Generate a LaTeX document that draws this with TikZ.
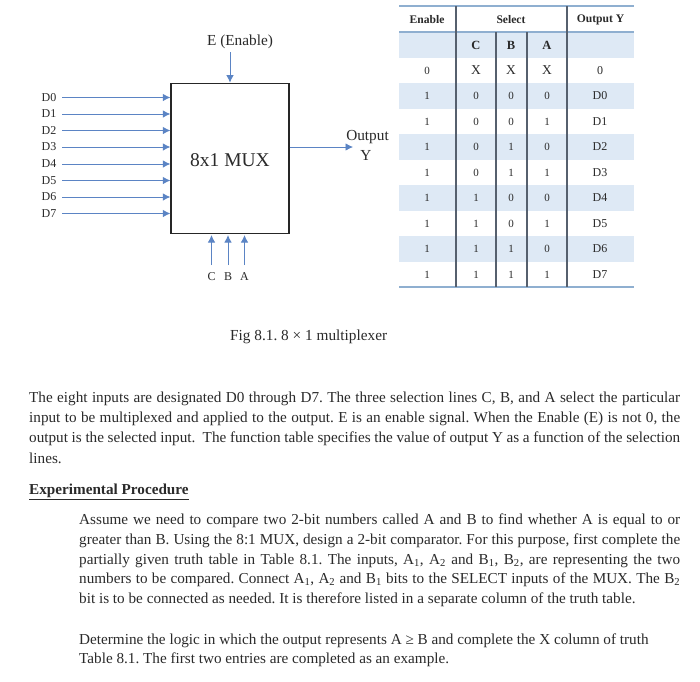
\documentclass[tikz,border=0pt]{standalone}
\usepackage{fontspec}
\setmainfont{Liberation Serif}
\usetikzlibrary{arrows.meta}
\frenchspacing
\definecolor{wire}{HTML}{5B84C4}
\definecolor{rowtint}{HTML}{DEE9F5}
\definecolor{rulecol}{HTML}{8FAFD0}
\definecolor{vrule}{HTML}{56606E}
\definecolor{ink}{HTML}{2A2A2A}
\tikzset{
  wirearrow/.style={draw=wire,line width=1pt,-{Latex[length=7.5pt,width=7.5pt]}},
  inlabel/.style={font=\fontsize{12}{14}\selectfont,text=ink,inner sep=0pt},
  diaglabel/.style={font=\fontsize{15.3}{17}\selectfont,text=ink,inner sep=0pt},
  muxbox/.style={draw=black!85,line width=1.2pt,inner sep=0pt,minimum width=118pt,minimum height=150pt},
  cell/.style={font=\fontsize{11}{13}\selectfont,text=ink,inner sep=0pt},
  headcell/.style={font=\fontsize{11.6}{13}\selectfont\bfseries,text=ink,inner sep=0pt},
  bodyline/.style={anchor=west,inner sep=0pt,text=ink,font=\fontsize{15.2}{17}\selectfont},
  tabledivider/.style={draw=vrule,line width=1.1pt},
  tablerule/.style={draw=rulecol,line width=1.1pt},
}
\newcommand{\fullline}[5]{\node[bodyline] (#1) at (#2,#3) {\makebox[#4pt][s]{#5}};}
\begin{document}
\begin{tikzpicture}[x=1pt,y=-1pt]
\path[use as bounding box,fill=white] (0,0) rectangle (700,681);

% MUX
\node[muxbox] (mux) at (230,158.3) {};
\node[diaglabel,font=\fontsize{19.5}{22}\selectfont] (muxtext) at (230,160.5) {8x1 MUX};
\node[diaglabel] (enable) at (240,41.5) {E (Enable)};
\coordinate (enfree) at (230,52);
\draw[wirearrow] (enfree) -- (enfree |- mux.north);

\foreach \i/\yy in {0/97.5,1/114,2/130.5,3/147,4/164,5/180.5,6/197,7/213.5}{
  \node[inlabel] (d\i) at (49,\yy) {D\i};
  \coordinate (dfree\i) at (62,\yy);
  \draw[wirearrow] (dfree\i) -- (dfree\i -| mux.west);
}
\coordinate (outstart) at (mux.east |- 0,147);
\coordinate (outend) at (353,147);
\draw[wirearrow,line width=0.8pt] (outstart) -- (outend);
\node[diaglabel] (outa) at (367.5,137.5) {Output};
\node[diaglabel] (outb) at (366,155) {Y};

\foreach \n/\xx in {C/211.5,B/228,A/244.5}{
  \node[inlabel] (sel\n) at (\xx,277) {\n};
  \coordinate (self\n) at (\xx,265);
  \draw[wirearrow] (self\n) -- (\xx,235);
}
\node[diaglabel,anchor=west] (caption) at (230,336.5) {Fig 8.1. 8 × 1 multiplexer};

% Table
\foreach \r in {0,2,4,6,8}{
  \fill[rowtint] (399,32+25.5*\r) rectangle (634,32+25.5*\r+25.5);
}
\draw[tablerule] (399,6) -- (634,6);
\draw[tablerule] (399,32) -- (634,32);
\draw[tablerule] (399,287) -- (634,287);
\draw[tabledivider] (456,6) -- (456,287);
\draw[tabledivider] (567,6) -- (567,287);
\draw[tabledivider] (496,32) -- (496,287);
\draw[tabledivider] (527,32) -- (527,287);

\node[headcell] (hE) at (427,20) {Enable};
\node[headcell] (hS) at (511,20) {Select};
\node[headcell] (hY) at (600.5,20) {Output Y};
\node[headcell,font=\fontsize{12.5}{14}\selectfont\bfseries] (hC) at (476,45) {C};
\node[headcell,font=\fontsize{12.5}{14}\selectfont\bfseries] (hB) at (511,45) {B};
\node[headcell,font=\fontsize{12.5}{14}\selectfont\bfseries] (hA) at (547,45) {A};

\foreach \r/\e/\c/\b/\a/\o in {1/0/X/X/X/0,2/1/0/0/0/D0,3/1/0/0/1/D1,4/1/0/1/0/D2,5/1/0/1/1/D3,6/1/1/0/0/D4,7/1/1/0/1/D5,8/1/1/1/0/D6,9/1/1/1/1/D7}{
  \node[cell] (e\r) at (427,45+25.5*\r) {\e};
  \node[cell,font=\fontsize{\ifnum\r=1 13.5\else 11\fi}{14}\selectfont] (c\r) at (476,45+25.5*\r) {\c};
  \node[cell,font=\fontsize{\ifnum\r=1 13.5\else 11\fi}{14}\selectfont] (b\r) at (511,45+25.5*\r) {\b};
  \node[cell,font=\fontsize{\ifnum\r=1 13.5\else 11\fi}{14}\selectfont] (a\r) at (547,45+25.5*\r) {\a};
  \node[cell,font=\fontsize{12}{14}\selectfont] (o\r) at (600,45+25.5*\r) {\o};
}

% Text
\fullline{l1}{29}{399}{651}{The eight inputs are designated D0 through D7. The three selection lines C, B, and A select the particular}
\fullline{l2}{29}{419}{651}{input to be multiplexed and applied to the output. E is an enable signal. When the Enable (E) is not 0, the}
\fullline{l3}{29}{439}{651}{output is the selected input.\ \ The function table specifies the value of output Y as a function of the selection}
\node[bodyline] (l4) at (29,458.5) {lines.};
\node[bodyline,font=\fontsize{15.2}{17}\selectfont\bfseries] (head) at (29,491.5) {\underline{Experimental Procedure}};
\fullline{p1}{79}{521}{601}{Assume we need to compare two 2-bit numbers called A and B to find whether A is equal to or}
\fullline{p2}{79}{540.5}{601}{greater than B. Using the 8:1 MUX, design a 2-bit comparator. For this purpose, first complete the}
\fullline{p3}{79}{561}{601}{partially given truth table in Table 8.1. The inputs, A\textsubscript{1}, A\textsubscript{2} and B\textsubscript{1}, B\textsubscript{2}, are representing the two}
\fullline{p4}{79}{580}{601}{numbers to be compared. Connect A\textsubscript{1}, A\textsubscript{2} and B\textsubscript{1} bits to the SELECT inputs of the MUX. The B\textsubscript{2}}
\node[bodyline] (p5) at (79,600) {bit is to be connected as needed. It is therefore listed in a separate column of the truth table.};
\node[bodyline] (q1) at (79,640.5) {Determine the logic in which the output represents A ≥ B and complete the X column of truth};
\node[bodyline] (q2) at (79,659.5) {Table 8.1. The first two entries are completed as an example.};
\end{tikzpicture}
\end{document}
